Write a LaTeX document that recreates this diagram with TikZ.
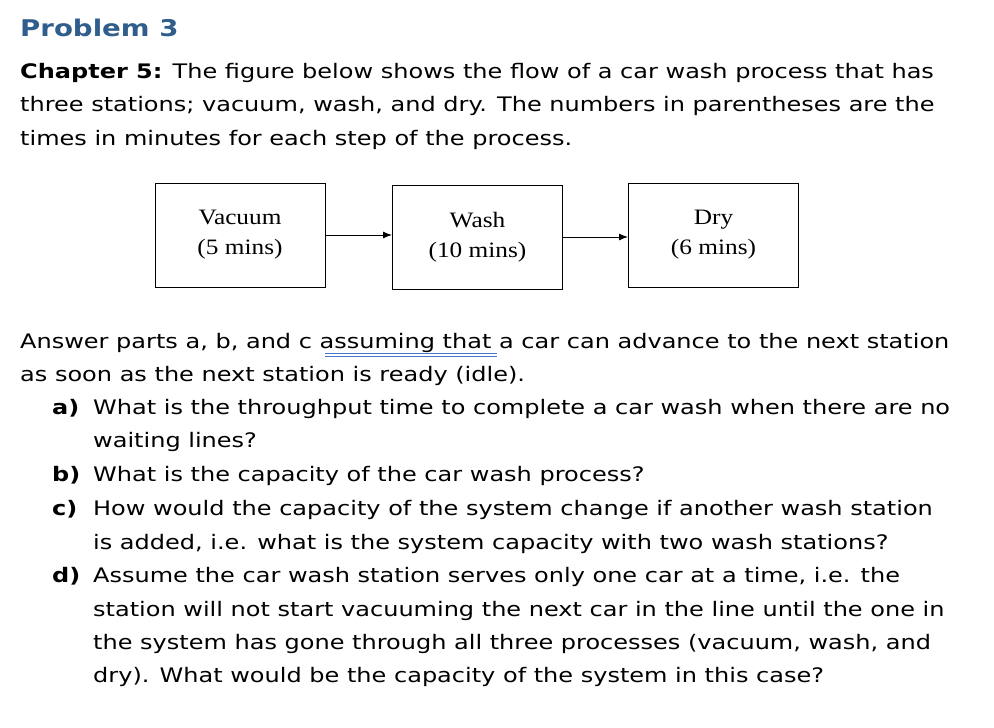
\documentclass[tikz,border=0pt]{standalone}
\usepackage{fontspec}
\setmainfont{DejaVu Sans}[FakeStretch=1.2]
\newfontfamily\tnr{Liberation Serif}[FakeStretch=1.15]
\usetikzlibrary{arrows.meta}
\definecolor{ttl}{HTML}{2F5D8C}
\definecolor{spell}{HTML}{4A78C8}
\begin{document}
\begin{tikzpicture}[x=1pt,y=-1pt,
  ln/.style={anchor=base west,inner sep=0pt,font=\fontsize{20}{22}\selectfont},
  box/.style={draw,line width=1pt,minimum width=170pt,minimum height=104pt,align=center,font=\tnr\fontsize{22}{30}\selectfont},
  arr/.style={-{Latex[length=9pt,width=7pt]},line width=1pt}]
\useasboundingbox (0,0) rectangle (994,728);
\node[ln,font=\bfseries\fontsize{23}{26}\selectfont,text=ttl] (t) at (20,36) {Problem 3};
\node[ln] (l1) at (20,78) {\textbf{Chapter 5:} The figure below shows the flow of a car wash process that has};
\node[ln] (l2) at (20,111) {three stations; vacuum, wash, and dry. The numbers in parentheses are the};
\node[ln] (l3) at (20,145) {times in minutes for each step of the process.};
\node[box] (v) at (240,235) {Vacuum\\(5 mins)};
\node[box] (w) at (477.5,237) {Wash\\(10 mins)};
\node[box] (d) at (713.5,235) {Dry\\(6 mins)};
\draw[arr] (v.east) -- (v.east -| w.west);
\draw[arr] (w.east) -- (w.east -| d.west);
\node[ln] (a1) at (20,348) {Answer parts a, b, and c assuming that a car can advance to the next station};
\draw[spell,line width=0.6pt] (325,353) -- (497,353) (325,356) -- (497,356);
\node[ln] (a2) at (20,381) {as soon as the next station is ready (idle).};
\foreach \lab/\y/\txt in {a)/414/{What is the throughput time to complete a car wash when there are no},
  b)/481/{What is the capacity of the car wash process?},
  c)/515/{How would the capacity of the system change if another wash station},
  d)/582/{Assume the car wash station serves only one car at a time, i.e. the}}
  {\node[ln] at (52,\y) {\textbf{\lab}}; \node[ln] at (93,\y) {\txt};}
\node[ln] (q1) at (93,447) {waiting lines?};
\node[ln] (q2) at (93,549) {is added, i.e. what is the system capacity with two wash stations?};
\node[ln] (q3) at (93,616) {station will not start vacuuming the next car in the line until the one in};
\node[ln] (q4) at (93,649) {the system has gone through all three processes (vacuum, wash, and};
\node[ln] (q5) at (93,682) {dry). What would be the capacity of the system in this case?};
\end{tikzpicture}
\end{document}
